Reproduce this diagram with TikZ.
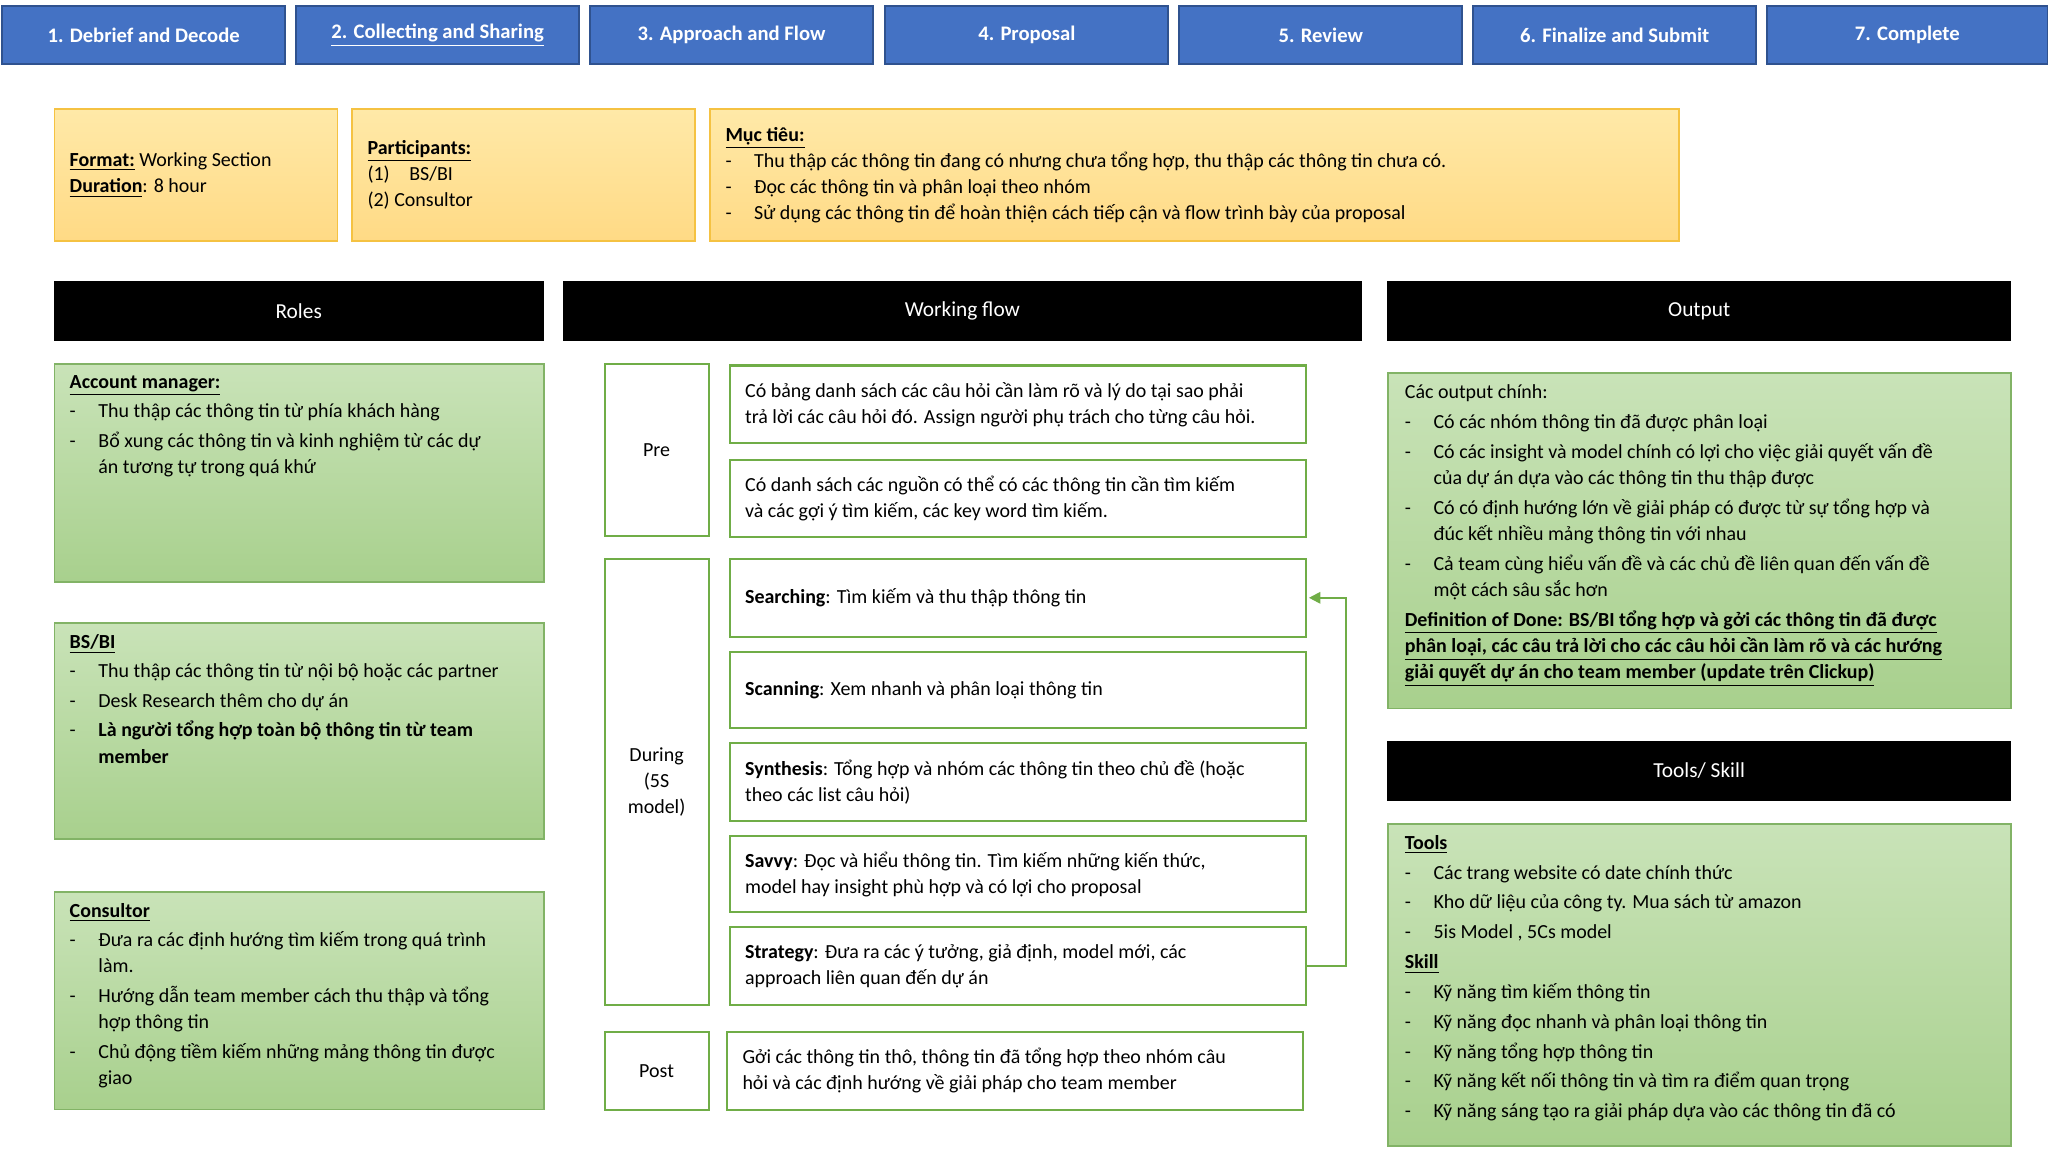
\documentclass[tikz,border=0pt]{standalone}
\usepackage{fontspec}
\setmainfont{Carlito}
\usetikzlibrary{arrows.meta}
\definecolor{tabblue}{HTML}{4472C4}
\definecolor{tabedge}{HTML}{2F528F}
\definecolor{yfill}{HTML}{FFDA85}
\definecolor{yfill2}{HTML}{FFE9A8}
\definecolor{yedge}{HTML}{F5C242}
\definecolor{gtop}{HTML}{C9E3B8}
\definecolor{gbot}{HTML}{A8D08D}
\definecolor{gedge}{HTML}{82B366}
\definecolor{fedge}{HTML}{70AD47}
\newcommand{\bul}{\makebox[0.44cm][l]{-}}
\newcommand{\ind}{\hspace*{0.44cm}}
\tikzset{
  every node/.style={font=\fontsize{8.7}{11.4}\selectfont},
  tabbox/.style={draw=tabedge,line width=0.8pt,fill=tabblue,text=white,font=\fontsize{9}{11}\selectfont\bfseries},
  ybox/.style={draw=yedge,line width=0.8pt,top color=yfill2,bottom color=yfill},
  hbox/.style={draw=black,fill=black,text=white,font=\fontsize{9.3}{11}\selectfont},
  gbox/.style={draw=gedge,line width=0.8pt,top color=gtop,bottom color=gbot},
  fbox/.style={draw=fedge,line width=0.9pt,fill=white},
  txt/.style={anchor=north west,inner sep=0pt,align=left},
}
\newcommand{\bx}[7]{\node[#6,anchor=north west,inner sep=0pt,minimum width=#4*0.02cm-0.8pt,minimum height=#5*0.02cm-0.8pt] (#1) at (#2*0.02,-#3*0.02) {#7};}
\begin{document}
\begin{tikzpicture}
\useasboundingbox[fill=white] (0,0) rectangle (31.36,-17.64);
% tabs
\bx{t1}{1}{4}{218}{46}{tabbox}{1. Debrief and Decode}
\bx{t2}{226}{4}{218}{46}{tabbox}{\underline{2. Collecting and Sharing}}
\bx{t3}{451}{4}{218}{46}{tabbox}{3. Approach and Flow}
\bx{t4}{677}{4}{218}{46}{tabbox}{4. Proposal}
\bx{t5}{902}{4}{218}{46}{tabbox}{5. Review}
\bx{t6}{1127}{4}{218}{46}{tabbox}{6. Finalize and Submit}
\bx{t7}{1352}{4}{216}{46}{tabbox}{7. Complete}
% yellow
\bx{y1}{41}{83}{218}{102}{ybox}{}
\node[txt,anchor=west] at ([xshift=12*0.02cm]y1.west) {\textbf{\underline{Format:}} Working Section\\\textbf{\underline{Duration}}: 8 hour};
\bx{y2}{269}{83}{264}{102}{ybox}{}
\node[txt,anchor=west] at ([xshift=12*0.02cm]y2.west) {\textbf{\underline{Participants:}}\\(1)\hspace{0.3cm}BS/BI\\(2) Consultor};
\bx{y3}{543}{83}{743}{102}{ybox}{}
\node[txt,anchor=west] at ([xshift=12*0.02cm]y3.west) {\textbf{\underline{Mục tiêu:}}\\\bul Thu thập các thông tin đang có nhưng chưa tổng hợp, thu thập các thông tin chưa có.\\\bul Đọc các thông tin và phân loại theo nhóm\\\bul Sử dụng các thông tin để hoàn thiện cách tiếp cận và flow trình bày của proposal};
% headers
\bx{h1}{41}{215}{376}{47}{hbox}{Roles}
\bx{h2}{431}{215}{612}{47}{hbox}{Working flow}
\bx{h3}{1062}{215}{478}{47}{hbox}{Output}
\bx{h4}{1062}{567}{478}{47}{hbox}{Tools/ Skill}
% roles
\bx{r1}{41}{278}{376}{168}{gbox}{}
\node[txt] at (53*0.02,-287*0.02) {\textbf{\underline{Account manager:}}\\[1.5pt]\bul Thu thập các thông tin từ phía khách hàng\\[1.5pt]\bul Bổ xung các thông tin và kinh nghiệm từ các dự\\\ind án tương tự trong quá khứ};
\bx{r2}{41}{476}{376}{167}{gbox}{}
\node[txt] at (53*0.02,-485*0.02) {\textbf{\underline{BS/BI}}\\[1.5pt]\bul Thu thập các thông tin từ nội bộ hoặc các partner\\[1.5pt]\bul Desk Research thêm cho dự án\\[1.5pt]\bul \textbf{Là người tổng hợp toàn bộ thông tin từ team}\\\ind\textbf{member}};
\bx{r3}{41}{682}{376}{168}{gbox}{}
\node[txt] at (53*0.02,-691*0.02) {\textbf{\underline{Consultor}}\\[1.5pt]\bul Đưa ra các định hướng tìm kiếm trong quá trình\\\ind làm.\\[1.5pt]\bul Hướng dẫn team member cách thu thập và tổng\\\ind hợp thông tin\\[1.5pt]\bul Chủ động tiềm kiếm những mảng thông tin được\\\ind giao};
% flow phases
\bx{pre}{462}{278}{81}{133}{fbox}{Pre}
\bx{dur}{462}{427}{81}{343}{fbox,align=center}{During\\(5S\\model)}
\bx{post}{462}{789}{81}{61}{fbox}{Post}
\newcommand{\fb}[4]{\bx{#1}{558}{#2}{442}{#3}{fbox}{}\node[txt,anchor=west] at ([xshift=12*0.02cm]#1.west) {#4};}
\fb{f1}{279}{61}{Có bảng danh sách các câu hỏi cần làm rõ và lý do tại sao phải\\trả lời các câu hỏi đó. Assign người phụ trách cho từng câu hỏi.}
\fb{f2}{351}{61}{Có danh sách các nguồn có thể có các thông tin cần tìm kiếm\\và các gợi ý tìm kiếm, các key word tìm kiếm.}
\fb{f3}{427}{61}{\textbf{Searching}: Tìm kiếm và thu thập thông tin}
\fb{f4}{498}{60}{\textbf{Scanning}: Xem nhanh và phân loại thông tin}
\fb{f5}{568}{61}{\textbf{Synthesis}: Tổng hợp và nhóm các thông tin theo chủ đề (hoặc\\theo các list câu hỏi)}
\fb{f6}{639}{60}{\textbf{Savvy}: Đọc và hiểu thông tin. Tìm kiếm những kiến thức,\\model hay insight phù hợp và có lợi cho proposal}
\fb{f7}{709}{61}{\textbf{Strategy}: Đưa ra các ý tưởng, giả định, model mới, các\\approach liên quan đến dự án}
\bx{f8}{556}{789}{442}{61}{fbox}{}
\node[txt,anchor=west] at ([xshift=12*0.02cm]f8.west) {Gởi các thông tin thô, thông tin đã tổng hợp theo nhóm câu\\hỏi và các định hướng về giải pháp cho team member};
\coordinate (lp) at (1030*0.02,0);
\draw[fedge,line width=0.9pt,-{Triangle[length=5pt,width=5pt]}] (f7.east) -- (f7.east -| lp) -- (f3.east -| lp) -- ([xshift=1pt]f3.east);
% output
\bx{o1}{1062}{285}{478}{258}{gbox}{}
\node[txt] at (1075*0.02,-294*0.02) {Các output chính:\\[1.6pt]\bul Có các nhóm thông tin đã được phân loại\\[1.6pt]\bul Có các insight và model chính có lợi cho việc giải quyết vấn đề\\\ind của dự án dựa vào các thông tin thu thập được\\[1.6pt]\bul Có có định hướng lớn về giải pháp có được từ sự tổng hợp và\\\ind đúc kết nhiều mảng thông tin với nhau\\[1.6pt]\bul Cả team cùng hiểu vấn đề và các chủ đề liên quan đến vấn đề\\\ind một cách sâu sắc hơn\\[1.6pt]\textbf{\underline{Definition of Done: BS/BI tổng hợp và gởi các thông tin đã được}}\\\textbf{\underline{phân loại, các câu trả lời cho các câu hỏi cần làm rõ và các hướng}}\\\textbf{\underline{giải quyết dự án cho team member (update trên Clickup)}}};
\bx{o2}{1062}{630}{478}{248}{gbox}{}
\node[txt] at (1075*0.02,-639*0.02) {\textbf{\underline{Tools}}\\[1.6pt]\bul Các trang website có date chính thức\\[1.6pt]\bul Kho dữ liệu của công ty. Mua sách từ amazon\\[1.6pt]\bul 5is Model , 5Cs model\\[1.6pt]\textbf{\underline{Skill}}\\[1.6pt]\bul Kỹ năng tìm kiếm thông tin\\[1.6pt]\bul Kỹ năng đọc nhanh và phân loại thông tin\\[1.6pt]\bul Kỹ năng tổng hợp thông tin\\[1.6pt]\bul Kỹ năng kết nối thông tin và tìm ra điểm quan trọng\\[1.6pt]\bul Kỹ năng sáng tạo ra giải pháp dựa vào các thông tin đã có};
\end{tikzpicture}
\end{document}
